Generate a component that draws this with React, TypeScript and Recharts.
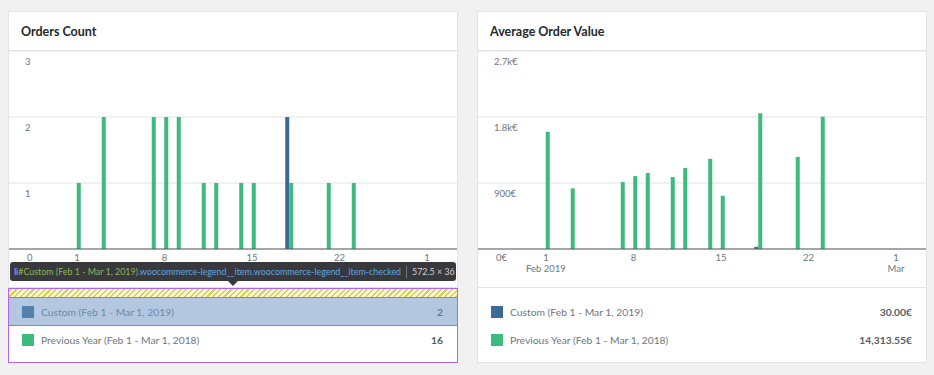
import React from "react";
import { BarChart, Bar, XAxis, YAxis, CartesianGrid } from "recharts";

const dates = [
  "Feb 1", "Feb 2", "Feb 3", "Feb 4", "Feb 5", "Feb 6", "Feb 7", "Feb 8", "Feb 9", "Feb 10",
  "Feb 11", "Feb 12", "Feb 13", "Feb 14", "Feb 15", "Feb 16", "Feb 17", "Feb 18", "Feb 19", "Feb 20",
  "Feb 21", "Feb 22", "Feb 23", "Feb 24", "Feb 25", "Feb 26", "Feb 27", "Feb 28", "Mar 1",
];
const periodYear = "2019";

// orders per day
const ordersCustom = [0, 0, 0, 0, 0, 0, 0, 0, 0, 0, 0, 0, 0, 0, 0, 0, 0, 2, 0, 0, 0, 0, 0, 0, 0, 0, 0, 0, 0];
const ordersPrevious = [1, 0, 2, 0, 0, 0, 2, 2, 2, 0, 1, 1, 0, 1, 1, 0, 0, 1, 0, 0, 1, 0, 1, 0, 0, 0, 0, 0, 0];

// average order value per day (€)
const aovCustom = [0, 0, 0, 0, 0, 0, 0, 0, 0, 0, 0, 0, 0, 0, 0, 0, 0, 30, 0, 0, 0, 0, 0, 0, 0, 0, 0, 0, 0];
const aovPrevious = [
  1598.5, 0, 826.2, 0, 0, 0, 912.0, 994.4, 1036.1, 0, 980.3, 1104.6, 0, 1228.8, 725.4, 0, 0, 1850.0, 0, 0,
  1255.5, 0, 1801.75, 0, 0, 0, 0, 0, 0,
];

const ordersTicks = [0, 1, 2, 3];
const aovTicks = [0, 900, 1800, 2700];

const seriesNames = ["Custom (Feb 1 - Mar 1, 2019)", "Previous Year (Feb 1 - Mar 1, 2018)"];
const ordersTotals = ["2", "16"];
const aovTotals = ["30.00€", "14,313.55€"];

const BLUE = "#3c6a91";
const GREEN = "#3dba7e";
const FONT = "Lato, 'Noto Sans', sans-serif";
const LABEL = "#6c7781";
const BORDER = "#e2e4e7";

const ordersData = dates.map((date, i) => ({ date, custom: ordersCustom[i], previous: ordersPrevious[i] }));
const aovData = dates.map((date, i) => ({ date, custom: aovCustom[i], previous: aovPrevious[i] }));

const formatCount = (v: number) => String(v);
const formatEuro = (v: number) => (v >= 1000 ? `${(v / 1000).toFixed(1)}k€` : `${v}€`);

function makeDayTick(showPeriod: boolean) {
  return (props: any) => {
    const { x, y, payload } = props;
    const value: string = payload.value;
    const day = value.split(" ")[1];
    let sub: string | null = null;
    if (showPeriod && value === dates[0]) sub = `${value.split(" ")[0]} ${periodYear}`;
    if (showPeriod && value === dates[dates.length - 1]) sub = value.split(" ")[0];
    return (
      <g>
        <text x={x} y={y + 12} textAnchor="middle" fontSize={9.5} fill={LABEL} fontFamily={FONT}>
          {day}
        </text>
        {sub && (
          <text x={x} y={y + 23} textAnchor="middle" fontSize={9.5} fill={LABEL} fontFamily={FONT}>
            {sub}
          </text>
        )}
      </g>
    );
  };
}

function makeValueTick(format: (v: number) => string) {
  return (props: any) => {
    const { y, payload } = props;
    const isZero = payload.value === 0;
    return (
      <text
        x={isZero ? 18 : 16}
        y={y + (isZero ? 12 : 14)}
        textAnchor="start"
        fontSize={9.5}
        fill={LABEL}
        fontFamily={FONT}
      >
        {format(payload.value)}
      </text>
    );
  };
}

function ChartCard({
  left,
  title,
  data,
  ticks,
  format,
  totals,
  showPeriod,
}: {
  left: number;
  title: string;
  data: any[];
  ticks: number[];
  format: (v: number) => string;
  totals: string[];
  showPeriod: boolean;
}) {
  const colors = [BLUE, GREEN];
  return (
    <div
      style={{
        position: "absolute",
        left,
        top: 11,
        width: 450,
        height: 352,
        boxSizing: "border-box",
        border: `1px solid ${BORDER}`,
        background: "#fff",
        fontFamily: FONT,
      }}
    >
      <div
        style={{
          position: "absolute",
          left: 0,
          top: 0,
          width: 448,
          height: 39,
          borderBottom: `1px solid ${BORDER}`,
          display: "flex",
          alignItems: "center",
          paddingLeft: 12,
          boxSizing: "border-box",
          fontSize: 12.5,
          fontWeight: 700,
          color: "#23282d",
        }}
      >
        {title}
      </div>
      <div style={{ position: "absolute", left: 0, top: 38 }}>
        <BarChart
          width={448}
          height={229}
          data={data}
          margin={{ top: 1, right: 0, bottom: 0, left: 0 }}
          barGap={0}
          barSize={4}
        >
          <CartesianGrid vertical={false} stroke={BORDER} />
          <XAxis
            dataKey="date"
            interval={6}
            height={30}
            padding={{ left: 61.75, right: 23.75 }}
            tickLine={false}
            tickSize={0}
            tickMargin={0}
            axisLine={{ stroke: "#555d66" }}
            tick={makeDayTick(showPeriod)}
          />
          <YAxis
            mirror
            width={40}
            domain={[ticks[0], ticks[ticks.length - 1]]}
            ticks={ticks}
            interval={0}
            axisLine={false}
            tickLine={false}
            tickSize={0}
            tickMargin={0}
            tick={makeValueTick(format)}
          />
          <Bar dataKey="custom" fill={BLUE} isAnimationActive={false} />
          <Bar dataKey="previous" fill={GREEN} isAnimationActive={false} />
        </BarChart>
      </div>
      <div
        style={{ position: "absolute", left: 0, top: 275, width: 448, borderTop: `1px solid ${BORDER}` }}
      />
      {seriesNames.map((name, i) => (
        <div
          key={name}
          style={{
            position: "absolute",
            left: 0,
            top: 286 + i * 28,
            width: 448,
            height: 28,
            display: "flex",
            alignItems: "center",
            fontSize: 10.3,
          }}
        >
          <span
            style={{ marginLeft: 13, width: 12, height: 12, background: colors[i], display: "inline-block" }}
          />
          <span style={{ marginLeft: 7, color: LABEL }}>{name}</span>
          <span style={{ marginLeft: "auto", marginRight: 14, fontWeight: 700, color: "#555d66" }}>
            {totals[i]}
          </span>
        </div>
      ))}
    </div>
  );
}

function InspectorOverlay() {
  return (
    <>
      <div
        style={{
          position: "absolute",
          left: 10,
          top: 262,
          width: 446,
          height: 19,
          background: "#38383d",
          borderRadius: 3,
          display: "flex",
          alignItems: "center",
          fontFamily: FONT,
          fontSize: 8.9,
          whiteSpace: "nowrap",
          boxSizing: "border-box",
          paddingLeft: 4,
        }}
      >
        <span style={{ color: "#d4a6f0" }}>li</span>
        <span style={{ color: "#8fb35c" }}>#Custom (Feb 1 - Mar 1, 2019)</span>
        <span style={{ color: "#62a8e0" }}>.woocommerce-legend__item.woocommerce-legend__item-checked</span>
        <span style={{ marginLeft: 5, borderLeft: "1px solid #77777c", height: 12 }} />
        <span style={{ marginLeft: 5, color: "#d0d0d3" }}>572.5 × 36</span>
      </div>
      <div
        style={{
          position: "absolute",
          left: 228,
          top: 281,
          width: 0,
          height: 0,
          borderLeft: "5px solid transparent",
          borderRight: "5px solid transparent",
          borderTop: "5px solid #38383d",
        }}
      />
      <div
        style={{
          position: "absolute",
          left: 9,
          top: 289,
          width: 448,
          height: 8,
          background: "repeating-linear-gradient(-45deg, #d8cf5a 0 1.5px, #fbf8d8 1.5px 4px)",
        }}
      />
      <div
        style={{
          position: "absolute",
          left: 9,
          top: 297,
          width: 448,
          height: 29,
          background: "rgba(110,150,195,0.52)",
          borderTop: "1px solid #b064f0",
          borderBottom: "1px solid #b064f0",
          boxSizing: "border-box",
        }}
      />
      <div
        style={{
          position: "absolute",
          left: 8,
          top: 288,
          width: 450,
          height: 75,
          border: "1px solid #b064f0",
          boxSizing: "border-box",
        }}
      />
    </>
  );
}

export default function App() {
  return (
    <div
      style={{
        position: "absolute",
        left: 0,
        top: 0,
        width: 934,
        height: 375,
        background: "#f1f1f1",
        overflow: "hidden",
      }}
    >
      <ChartCard
        left={8}
        title="Orders Count"
        data={ordersData}
        ticks={ordersTicks}
        format={formatCount}
        totals={ordersTotals}
        showPeriod={false}
      />
      <ChartCard
        left={477}
        title="Average Order Value"
        data={aovData}
        ticks={aovTicks}
        format={formatEuro}
        totals={aovTotals}
        showPeriod
      />
      <InspectorOverlay />
    </div>
  );
}
